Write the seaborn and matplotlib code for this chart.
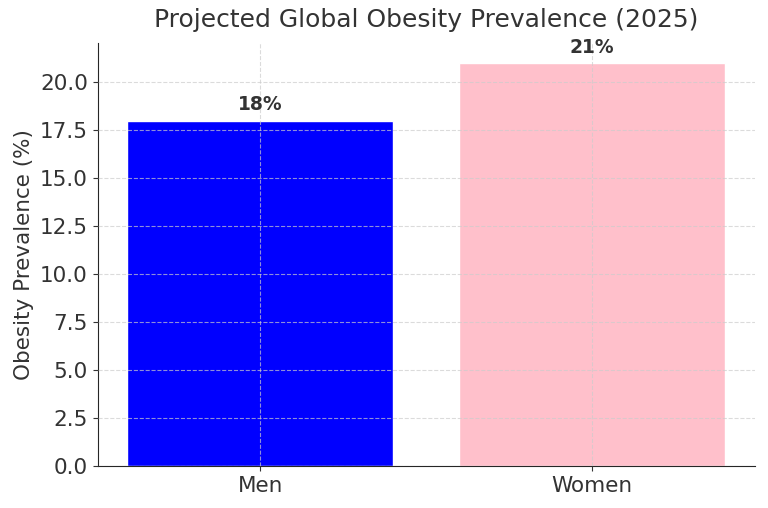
import matplotlib
matplotlib.use("Agg")
import matplotlib.pyplot as plt
import seaborn as sns
import pandas as pd

genders = ["Men", "Women"]
prevalence = [18, 21]
bar_colors = ["blue", "pink"]

df = pd.DataFrame({"gender": genders, "prevalence": prevalence})

sns.set_style("ticks")
plt.rcParams["font.family"] = ["DejaVu Sans"]
plt.rcParams["text.color"] = "#333333"
plt.rcParams["axes.labelcolor"] = "#333333"
plt.rcParams["xtick.color"] = "#333333"
plt.rcParams["ytick.color"] = "#333333"

fig, ax = plt.subplots(figsize=(7.68, 5.08), dpi=100)
sns.barplot(data=df, x="gender", y="prevalence", hue="gender", palette=bar_colors,
            legend=False, width=0.8, saturation=1, ax=ax)

for i, v in enumerate(prevalence):
    ax.text(i, v + 0.35, f"{v}%", ha="center", va="bottom", fontsize=13.5, fontweight="bold")

ax.set_xlim(-0.49, 1.49)
ax.set_ylim(0, 22.05)
ax.set_title("Projected Global Obesity Prevalence (2025)", fontsize=18, pad=12)
ax.set_xlabel("")
ax.set_ylabel("Obesity Prevalence (%)", fontsize=15.5)
ax.tick_params(labelsize=15.5)
ax.grid(True, linestyle="--", alpha=0.7)
ax.set_axisbelow(False)
sns.despine(ax=ax)

plt.subplots_adjust(left=0.127, right=0.983, top=0.915, bottom=0.083)
fig.savefig("out.png", dpi=100)
